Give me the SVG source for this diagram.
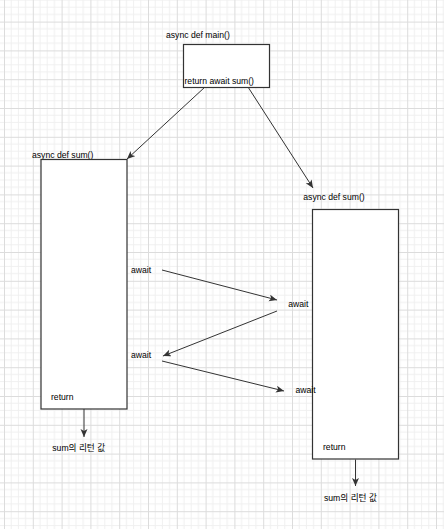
<svg xmlns="http://www.w3.org/2000/svg" width="444" height="529" viewBox="0 0 444 529">
<defs>
<pattern id="grid" patternUnits="userSpaceOnUse" x="4" y="21.6" width="28.8" height="28.8">
<path d="M7.2,0V28.8M14.4,0V28.8M21.6,0V28.8M0,7.2H28.8M0,14.4H28.8M0,21.6H28.8" stroke="#f0f0f0" stroke-width="1" fill="none"/>
<path d="M0.5,0V28.8M0,0.5H28.8" stroke="#dcdcdc" stroke-width="1" fill="none"/>
</pattern>
<marker id="arr" markerUnits="userSpaceOnUse" markerWidth="10" markerHeight="8" refX="8" refY="3.5" orient="auto">
<path d="M0,0 L8,3.5 L0,7 L2,3.5 z" fill="#333"/>
</marker>
<style>
.box{fill:#fff;stroke:#333;stroke-width:1.2}
.t{font-family:"Liberation Sans",Arial,"Noto Sans CJK KR",sans-serif;font-size:8.64px;fill:#000}
.c{stroke:#333;stroke-width:1;fill:none;marker-end:url(#arr)}
</style>
</defs>
<rect width="444" height="529" fill="#fff"/>
<rect width="444" height="529" fill="url(#grid)"/>
<g id="connectors">
<line class="c" x1="205" y1="87" x2="127" y2="159"/>
<line class="c" x1="248" y1="87" x2="313" y2="188"/>
<line class="c" x1="162" y1="270" x2="277" y2="300"/>
<line class="c" x1="277" y1="311" x2="163" y2="356"/>
<line class="c" x1="162" y1="361" x2="284" y2="391"/>
<line class="c" x1="84" y1="409" x2="84" y2="437"/>
<line class="c" x1="355.5" y1="459.5" x2="355.5" y2="486"/>
</g>
<g id="main">
<text class="t" x="166" y="37.5">async def main()</text>
<rect class="box" x="183.5" y="44.5" width="86" height="43"/>
<text class="t" x="184.5" y="84.3">return await sum()</text>
</g>
<g id="sum-left">
<text class="t" x="32" y="157.5">async def sum()</text>
<rect class="box" x="41" y="159.5" width="86" height="249.5"/>
<text class="t" x="131" y="273">await</text>
<text class="t" x="131" y="357.7">await</text>
<text class="t" x="51" y="400">return</text>
</g>
<g id="sum-right">
<text class="t" x="303.3" y="200.3">async def sum()</text>
<rect class="box" x="312.5" y="209.5" width="86" height="249.5"/>
<text class="t" x="288.3" y="307.3">await</text>
<text class="t" x="295.5" y="393.3">await</text>
<text class="t" x="323" y="450">return</text>
</g>
<g id="result-left">
<text class="t" x="52.3" y="450.7">sum의 리턴 값</text>
</g>
<g id="result-right">
<text class="t" x="324" y="501.3">sum의 리턴 값</text>
</g>
</svg>
